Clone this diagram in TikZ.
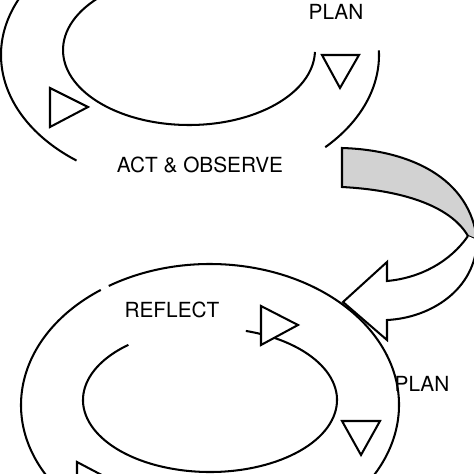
\documentclass[tikz,border=0pt]{standalone}
\usepackage{fontspec}
\setmainfont{TeX Gyre Heros}
\begin{document}
\begin{tikzpicture}[x=0.025cm, y=-0.025cm, line width=1.45pt,
        stage/.style={font=\fontsize{14.8}{16}\selectfont, inner sep=0pt},
        tri/.style={fill=white, line join=miter}]
        \clip (0,0) rectangle (474,474);
        % upper cycle
        \begin{scope}
            \draw (190,55) ++(126.9:189 and 132) arc[start angle=126.9, end angle=215, x radius=189, y radius=132];
            \draw (190,55) ++(-2:189 and 132) arc[start angle=-2, end angle=44.3, x radius=189, y radius=132];
            \draw (189,50) ++(1.5:126 and 75) arc[start angle=1.5, end angle=230, x radius=126, y radius=75];
            \draw[tri] (50,88) -- (50,127) -- (88,107) -- cycle;
            \draw[tri] (322,55) -- (359,55) -- (340,88) -- cycle;
            \node[stage] (plantop) at (336,12) {PLAN};
            \node[stage] (act) at (200,165) {ACT \& OBSERVE};
        \end{scope}
        % lower cycle
        \begin{scope}
            \draw (210,405) ++(237.6:189 and 141) arc[start angle=237.6, end angle=594.7, x radius=189, y radius=141];
            \draw (210,400) ++(286.4:127 and 72) arc[start angle=286.4, end angle=590, x radius=127, y radius=72];
            \draw[tri] (261,306) -- (261,345) -- (298,325) -- cycle;
            \draw[tri] (342,421) -- (380,421) -- (361,455) -- cycle;
            \draw[tri] (77,462) -- (77,501) -- (115,482) -- cycle;
            \node[stage] (reflect) at (172,310) {REFLECT};
            \node[stage] (planlow) at (422,384) {PLAN};
        \end{scope}
        % twisted arrow
        \draw[fill=gray!35] (342,148) .. controls (410,150) and (470,178) .. (477,240)
            -- (468,236) .. controls (450,205) and (400,190) .. (342,187) -- cycle;
        \draw[fill=white, line join=miter] (477,240) .. controls (476,290) and (430,318) .. (387,320)
            -- (387,340) -- (343,302) -- (387,262) -- (387,281)
            .. controls (420,278) and (450,262) .. (468,236);
\end{tikzpicture}
\end{document}
